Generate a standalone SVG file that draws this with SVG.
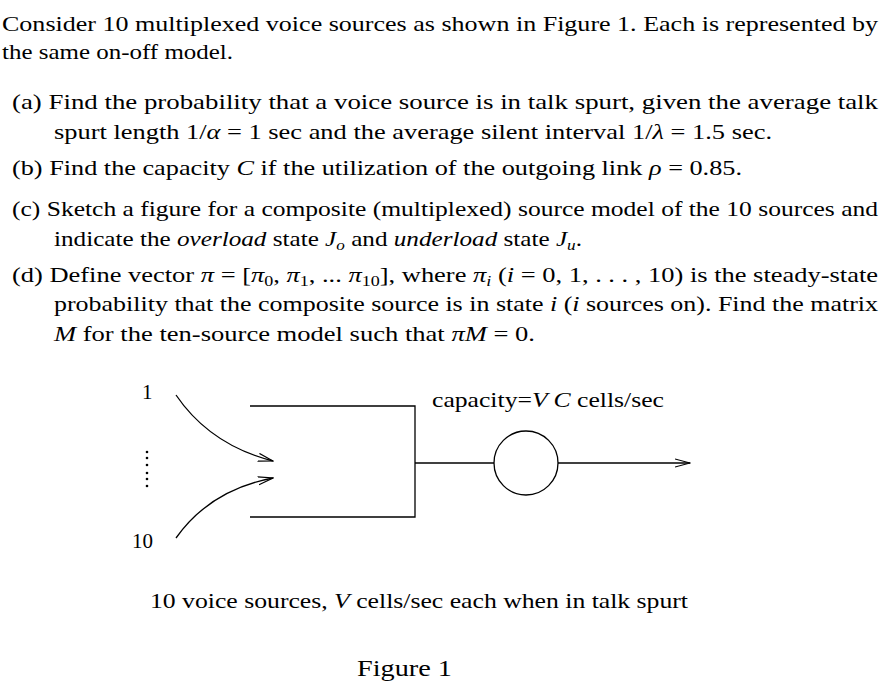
<svg xmlns="http://www.w3.org/2000/svg" width="892" height="694" viewBox="0 0 892 694">
<defs>
<style>
text{font-family:"Liberation Serif","DejaVu Serif",serif;fill:#000}
.b{font-size:22px}
.f{font-size:21px}
.i{font-style:italic}
.ln{stroke:#000;stroke-width:1.3;fill:none}
</style>
<marker id="ah" markerWidth="16" markerHeight="10" refX="15" refY="5" orient="auto" markerUnits="userSpaceOnUse"><path d="M0,1 L15,5 L0,9" fill="none" stroke="#000" stroke-width="1.2"/></marker>
</defs>
<g id="problem">
<text class="b" x="2" y="31" textLength="876" lengthAdjust="spacingAndGlyphs">Consider 10 multiplexed voice sources as shown in Figure 1.  Each is represented by</text>
<text class="b" x="2" y="59" textLength="231" lengthAdjust="spacingAndGlyphs">the same on-off model.</text>
<text class="b" x="12" y="109" textLength="866" lengthAdjust="spacingAndGlyphs">(a)  Find the probability that a voice source is in talk spurt, given the average talk</text>
<text class="b" x="54" y="139" textLength="718" lengthAdjust="spacingAndGlyphs">spurt length 1/<tspan class="i">α</tspan> = 1 sec and the average silent interval 1/<tspan class="i">λ</tspan> = 1.5 sec.</text>
<text class="b" x="12" y="175" textLength="730" lengthAdjust="spacingAndGlyphs">(b)  Find the capacity <tspan class="i">C</tspan> if the utilization of the outgoing link <tspan class="i">ρ</tspan> = 0.85.</text>
<text class="b" x="12" y="216" textLength="866" lengthAdjust="spacingAndGlyphs">(c)  Sketch a figure for a composite (multiplexed) source model of the 10 sources and</text>
<text class="b" x="54" y="246" textLength="528" lengthAdjust="spacingAndGlyphs">indicate the <tspan class="i">overload</tspan> state <tspan class="i">J</tspan><tspan class="i" font-size="15" dy="4">o</tspan><tspan dy="-4"> and </tspan><tspan class="i">underload</tspan> state <tspan class="i">J</tspan><tspan class="i" font-size="15" dy="4">u</tspan><tspan dy="-4">.</tspan></text>
<text class="b" x="12" y="282" textLength="866" lengthAdjust="spacingAndGlyphs">(d)  Define vector <tspan class="i">π</tspan> = [<tspan class="i">π</tspan><tspan font-size="15" dy="4">0</tspan><tspan dy="-4">,  </tspan><tspan class="i">π</tspan><tspan font-size="15" dy="4">1</tspan><tspan dy="-4">,  ...  </tspan><tspan class="i">π</tspan><tspan font-size="15" dy="4">10</tspan><tspan dy="-4">], where </tspan><tspan class="i">π</tspan><tspan class="i" font-size="15" dy="4">i</tspan><tspan dy="-4"> (</tspan><tspan class="i">i</tspan> = 0, 1, . . . , 10) is the steady-state</text>
<text class="b" x="54" y="311" textLength="824" lengthAdjust="spacingAndGlyphs">probability that the composite source is in state <tspan class="i">i</tspan> (<tspan class="i">i</tspan> sources on).  Find the matrix</text>
<text class="b" x="54" y="341" textLength="481" lengthAdjust="spacingAndGlyphs"><tspan class="i">M</tspan> for the ten-source model such that <tspan class="i">πM</tspan> = 0.</text>
</g>
<g id="figure-labels">
<text class="f" x="142" y="399">1</text>
<text class="f" x="132" y="548">10</text>
<text class="f" x="432" y="407" textLength="232" lengthAdjust="spacingAndGlyphs">capacity=<tspan class="i">V C</tspan> cells/sec</text>
<text class="f" x="150" y="608" textLength="538" lengthAdjust="spacingAndGlyphs">10 voice sources, <tspan class="i">V</tspan> cells/sec each  when in talk spurt</text>
<text x="357" y="676" font-size="24" textLength="95" lengthAdjust="spacingAndGlyphs">Figure 1</text>
</g>
<g id="dots" fill="#000">
<circle cx="147" cy="452" r="1.3"/><circle cx="147" cy="458" r="1.3"/><circle cx="147" cy="465" r="1.3"/>
<circle cx="147" cy="473" r="1.3"/><circle cx="147" cy="479" r="1.3"/><circle cx="147" cy="486" r="1.3"/>
</g>
<g id="queue">
<path class="ln" d="M250,406 H415 V517 H250"/>
<circle id="server" class="ln" cx="526" cy="463" r="32"/>
</g>
<g id="connectors">
<path class="ln" d="M176,395 Q210,445 273,461" marker-end="url(#ah)"/>
<path class="ln" d="M176,538 Q210,490 273,478" marker-end="url(#ah)"/>
<path class="ln" d="M415,463 H494"/>
<path class="ln" d="M558,463 H690" marker-end="url(#ah)"/>
</g>
</svg>
